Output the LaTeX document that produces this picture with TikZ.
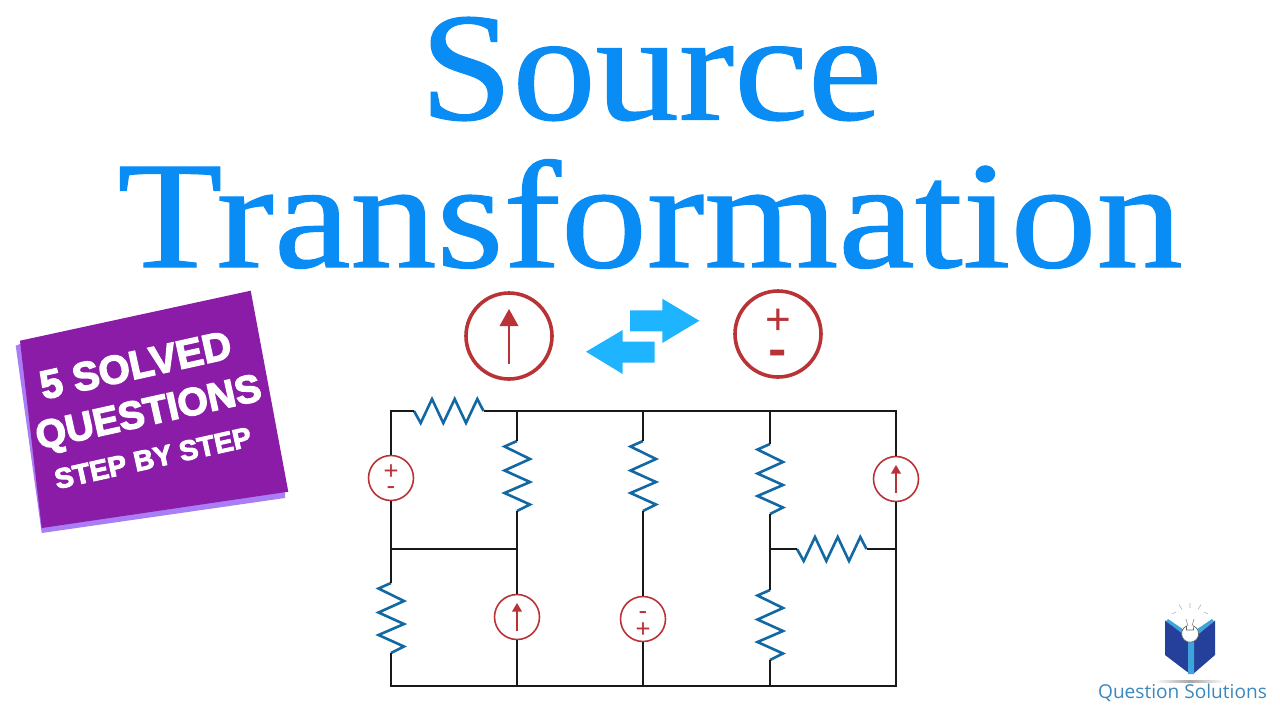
\documentclass[tikz,border=0pt]{standalone}
\usepackage{fontspec}
\setmainfont{Liberation Serif}
\newfontfamily\headfont[FakeBold=0.8]{Liberation Serif}
\newfontfamily\signfont{Liberation Sans}
\newfontfamily\badgefont[UprightFont=* Bold,FakeBold=3.5]{Liberation Sans}
\newfontfamily\logofont{Open Sans}
\usetikzlibrary{calc}
\definecolor{titleblue}{HTML}{0A8CF5}
\definecolor{srcred}{HTML}{B83236}
\definecolor{resblue}{HTML}{1268A2}
\definecolor{arrowblue}{HTML}{1EB4FF}
\definecolor{badgepurple}{HTML}{8A1CA8}
\definecolor{badgeshade}{HTML}{A97DF5}
\definecolor{bookblue}{HTML}{24409A}
\definecolor{pageblue}{HTML}{3FA3DC}
\definecolor{logotext}{HTML}{3A88BC}
\tikzset{
  wire/.style={line width=0.8pt,black!90},
  rline/.style={line width=1.3pt,resblue,line join=miter},
  bigsrc/.style={circle,draw=srcred,line width=1.8pt,inner sep=0pt,minimum size=43pt},
  smallsrc/.style={circle,draw=srcred,line width=0.8pt,inner sep=0pt,minimum size=22.5pt},
  sign/.style={srcred,inner sep=0pt,font=\signfont},
  hres/.pic={
    \coordinate (-a) at (0,0);
    \coordinate (-b) at (69.5,0);
    \draw[rline] (-a) -- (6.7,12) -- (18,-12) -- (29.3,12) -- (40.7,-12) -- (52,12) -- (63.3,-12) -- (-b);
  },
  vres/.pic={
    \coordinate (-a) at (0,0);
    \coordinate (-b) at (0,70);
    \draw[rline] (-a) -- (-12.5,5.5) -- (13,18) -- (-12.5,29.5) -- (13,41) -- (-12.5,52) -- (13,63.5) -- (-b);
  },
}
\begin{document}
\begin{tikzpicture}[x=0.5pt,y=-0.5pt]
    \useasboundingbox (0,0) rectangle (1280,720);
    % heading
    \node[titleblue,font=\headfont\fontsize{84}{84}\selectfont,inner sep=0pt,xscale=0.99,yscale=0.92] (head1) at (651,69) {Source};
    \node[titleblue,font=\headfont\fontsize{84}{84}\selectfont,inner sep=0pt,xscale=1.025,yscale=0.91] (head2) at (650,214) {Transformation};
    % badge
    \fill[badgeshade] (15.7,345.7) -- (41.7,533) -- (285,498) -- (285,480) -- (30,340) -- cycle;
    \fill[badgepurple] (20,340.7) -- (250.7,290.7) -- (288.3,491.7) -- (41.7,528) -- cycle;
    \node[white,font=\badgefont\fontsize{20}{20}\selectfont,rotate=12.5,inner sep=0pt] (badge1) at (135.5,365) {5 SOLVED};
    \node[white,font=\badgefont\fontsize{19.5}{19.5}\selectfont,rotate=12.5,inner sep=0pt] (badge2) at (149,415) {QUESTIONS};
    \node[white,font=\badgefont\fontsize{14}{14}\selectfont,rotate=12.5,inner sep=0pt] (badge3) at (153,458) {STEP BY STEP};
    % two sources above the circuit
    \node[bigsrc] (bigi) at (509,336) {};
    \node[bigsrc] (bigv) at (778,334) {};
    \coordinate (bigtail) at (509,364);
    \coordinate (bighead) at (509,326);
    \draw[srcred,line width=1.3pt] (bigtail) -- (bighead);
    \fill[srcred] (509,309) -- (518.5,326) -- (499.5,326) -- cycle;
    \node[sign,font=\signfont\fontsize{22}{22}\selectfont] (bigplus) at (778,322) {+};
    \node[sign,font=\signfont\bfseries\fontsize{24}{24}\selectfont,xscale=1.15] (bigminus) at (778,358) {-};
    \fill[arrowblue] (630,310.3) -- (662.3,310.3) -- (662.3,298.7) -- (699.3,320.7) -- (662.3,343) -- (662.3,331.3) -- (630,331.3) -- cycle;
    \fill[arrowblue] (654.7,341.7) -- (622.7,341.7) -- (622.7,330) -- (586,351.7) -- (622.7,374) -- (622.7,362.7) -- (654.7,362.7) -- cycle;
    % corners and junctions
    \coordinate (tl) at (391,411);
    \coordinate (t2) at (517,411);
    \coordinate (t3) at (643,411);
    \coordinate (t4) at (770,411);
    \coordinate (tr) at (896,411);
    \coordinate (ml) at (391,549);
    \coordinate (m2) at (517,549);
    \coordinate (m4) at (770,549);
    \coordinate (mr) at (896,549);
    \coordinate (bl) at (391,686);
    \coordinate (b2) at (517,686);
    \coordinate (b3) at (643,686);
    \coordinate (b4) at (770,686);
    \coordinate (br) at (896,686);
    % resistors
    \pic (r1) at (414,411) {hres};
    \pic (r2) at (517,441) {vres};
    \pic (r3) at (643,441) {vres};
    \pic (r4) at (770,444) {vres};
    \pic (r5) at (797,549) {hres};
    \pic (r6) at (770,590) {vres};
    \pic (r7) at (391,583) {vres};
    % sources
    \node[smallsrc] (s1) at (391,478) {};
    \node[smallsrc] (s2) at (517,617) {};
    \node[smallsrc] (s3) at (643,619) {};
    \node[smallsrc] (s4) at (896,479) {};
    \node[sign,font=\signfont\fontsize{12.8}{12.8}\selectfont] (s1plus) at (391,472) {+};
    \node[sign,font=\signfont\fontsize{13}{13}\selectfont] (s1minus) at (391,491) {-};
    \node[sign,font=\signfont\fontsize{13}{13}\selectfont] (s3minus) at (643,616) {-};
    \node[sign,font=\signfont\fontsize{12.8}{12.8}\selectfont] (s3plus) at (643,630) {+};
    \draw[srcred,line width=0.7pt] (517,631) -- (517,610);
    \fill[srcred] (517,603) -- (522,611.5) -- (512,611.5) -- cycle;
    \draw[srcred,line width=0.7pt] (896,493) -- (896,472);
    \fill[srcred] (896,465) -- (901,473.5) -- (891,473.5) -- cycle;
    % wires
    \draw[wire] (s1) -- (tl) -- (r1-a);
    \draw[wire] (r1-b) -- (tr) -- (s4);
    \draw[wire] (s4) -- (br) -- (bl) -- (r7-b);
    \draw[wire] (r7-a) -- (s1);
    \draw[wire] (t2) -- (r2-a);
    \draw[wire] (r2-b) -- (s2);
    \draw[wire] (s2) -- (b2);
    \draw[wire] (ml) -- (m2);
    \draw[wire] (t3) -- (r3-a);
    \draw[wire] (r3-b) -- (s3);
    \draw[wire] (s3) -- (b3);
    \draw[wire] (t4) -- (r4-a);
    \draw[wire] (r4-b) -- (r6-a);
    \draw[wire] (r6-b) -- (b4);
    \draw[wire] (m4) -- (r5-a);
    \draw[wire] (r5-b) -- (mr);
    % logo
    \shade[left color=white,right color=white,middle color=black!35] (1155,680) rectangle (1225,682);
    \fill[bookblue] (1165,620.5) -- (1190,638) -- (1190,674) -- (1165,655) -- cycle;
    \fill[bookblue] (1215,620.5) -- (1193,638) -- (1193,674) -- (1215,655) -- cycle;
    \fill[pageblue] (1168,619) -- (1190,634) -- (1212,619) -- (1214,621) -- (1194,638) -- (1194,674) -- (1188,674) -- (1188,638) -- (1166,621) -- cycle;
    \fill[white] (1175,617) -- (1205,617) -- (1190,632) -- cycle;
    \draw[black!60,line width=0.35pt,fill=white] (1186.5,630) -- (1186.5,626) arc (-115:-425:8.5) -- (1193.5,630) -- cycle;
    \draw[black!45,line width=0.3pt] (1188,626) -- (1186,619) (1192,626) -- (1194,619);
    \draw[black!30,line width=0.3pt] (1190,603) -- (1190,608) (1179,604.5) -- (1182,609.5) (1201,604.5) -- (1198,609.5) (1176,612) -- (1172,614) (1204,612) -- (1208,614);
    \node[logotext,font=\logofont\fontsize{9.55}{9.55}\selectfont,inner sep=0pt] (logoname) at (1182.5,693) {Question Solutions};
\end{tikzpicture}
\end{document}
